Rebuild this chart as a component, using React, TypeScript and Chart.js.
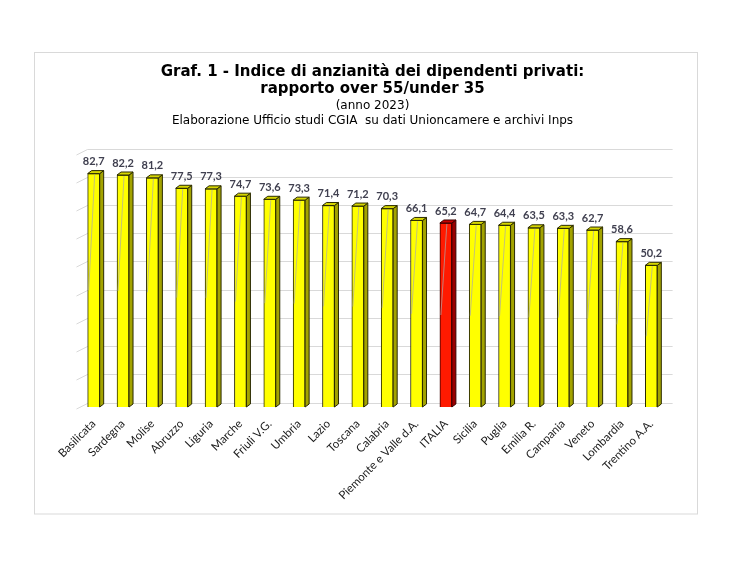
import React, { useEffect, useRef } from "react";
import { Chart, registerables } from "chart.js";

Chart.register(...registerables);

const categories = [
  "Basilicata", "Sardegna", "Molise", "Abruzzo", "Liguria", "Marche", "Friuli V.G.",
  "Umbria", "Lazio", "Toscana", "Calabria", "Piemonte e Valle d.A.", "ITALIA",
  "Sicilia", "Puglia", "Emilia R.", "Campania", "Veneto", "Lombardia", "Trentino A.A.",
];
const values = [82.7, 82.2, 81.2, 77.5, 77.3, 74.7, 73.6, 73.3, 71.4, 71.2, 70.3, 66.1, 65.2, 64.7, 64.4, 63.5, 63.3, 62.7, 58.6, 50.2];
const highlight = "ITALIA";
const titleLines = ["Graf. 1 - Indice di anzianità dei dipendenti privati:", "rapporto over 55/under 35"];
const subtitleLines = ["(anno 2023)", "Elaborazione Ufficio studi CGIA  su dati Unioncamere e archivi Inps"];
const yMax = 90;
const yStep = 10;

const fmt = (v: number) => v.toFixed(1).replace(".", ",");

const threeD = {
  id: "threeD",
  beforeDraw(chart: any) {
    const ctx = chart.ctx;
    ctx.save();
    ctx.fillStyle = "#ffffff";
    ctx.fillRect(0, 0, chart.width, chart.height);
    ctx.strokeStyle = "#d9d9d9";
    ctx.lineWidth = 1;
    ctx.strokeRect(34.5, 52.5, 663, 461.5);
    ctx.restore();
  },
  beforeDatasetsDraw(chart: any) {
    const ctx = chart.ctx;
    const ys = chart.scales.y;
    const area = chart.chartArea;
    ctx.save();
    ctx.strokeStyle = "#d9d9d9";
    ctx.lineWidth = 1;
    for (let v = 0; v <= yMax; v += yStep) {
      const yb = Math.round(ys.getPixelForValue(v) - 4.5) + 0.5;
      ctx.beginPath();
      ctx.moveTo(area.left - 2.5, yb + 5.5);
      ctx.lineTo(area.left + 8.5, yb);
      ctx.lineTo(area.right + 6.6, yb);
      ctx.stroke();
    }
    ctx.restore();
  },
  afterDatasetsDraw(chart: any) {
    const ctx = chart.ctx;
    const meta = chart.getDatasetMeta(0);
    const dx = 4;
    const dy = 3;
    ctx.save();
    meta.data.forEach((bar: any, i: number) => {
      const red = categories[i] === highlight;
      const w = bar.width;
      const l = bar.x - w / 2;
      const r = bar.x + w / 2;
      const t = bar.y;
      const b = bar.base;
      ctx.lineWidth = 1;
      ctx.strokeStyle = red ? "#3a0000" : "#2a2a00";
      // side
      ctx.beginPath();
      ctx.moveTo(r, t);
      ctx.lineTo(r + dx, t - dy);
      ctx.lineTo(r + dx, b - dy);
      ctx.lineTo(r, b);
      ctx.closePath();
      ctx.fillStyle = red ? "#9a0000" : "#a3a300";
      ctx.fill();
      ctx.stroke();
      // top
      ctx.beginPath();
      ctx.moveTo(l, t);
      ctx.lineTo(l + dx, t - dy);
      ctx.lineTo(r + dx, t - dy);
      ctx.lineTo(r, t);
      ctx.closePath();
      ctx.fillStyle = red ? "#c80000" : "#d6d600";
      ctx.fill();
      ctx.stroke();
      // glare
      ctx.beginPath();
      ctx.strokeStyle = "rgba(170,170,170,0.7)";
      ctx.moveTo(bar.x + 1, t + 1);
      ctx.lineTo(l + 1, t + (b - t) * 0.5);
      ctx.stroke();
      // value label
      ctx.fillStyle = "#404050";
      ctx.font = "bold 11px Lato, 'Open Sans', sans-serif";
      ctx.textAlign = "center";
      ctx.textBaseline = "middle";
      ctx.fillText(fmt(values[i]), bar.x, t - 12);
    });
    ctx.restore();
  },
};

export default function App() {
  const ref = useRef<HTMLCanvasElement | null>(null);
  useEffect(() => {
    if (!ref.current) return;
    const chart = new Chart(ref.current, {
      type: "bar",
      data: {
        labels: categories,
        datasets: [
          {
            data: values,
            backgroundColor: categories.map((c) => (c === highlight ? "#ff1a00" : "#ffff00")),
            borderColor: categories.map((c) => (c === highlight ? "#3a0000" : "#2a2a00")),
            borderWidth: 1,
            barThickness: 12,
          },
        ],
      },
      options: {
        animation: false,
        responsive: false,
        layout: { padding: { left: 79, right: 64, top: 0, bottom: 0 } },
        plugins: {
          legend: { display: false },
          tooltip: { enabled: false },
          title: {
            display: true,
            text: titleLines,
            color: "#000000",
            font: { family: "'DejaVu Sans', Verdana, sans-serif", size: 15, weight: "bold", lineHeight: 1.15 },
            padding: { top: 63.5, bottom: 0 },
          },
          subtitle: {
            display: true,
            text: subtitleLines,
            color: "#000000",
            font: { family: "'DejaVu Sans', Verdana, sans-serif", size: 12, weight: "normal", lineHeight: 1.25 },
            padding: { top: 0, bottom: 25 },
          },
        },
        scales: {
          x: {
            grid: { display: false },
            border: { display: false },
            ticks: {
              autoSkip: false,
              maxRotation: 45,
              minRotation: 45,
              color: "#1a1a1a",
              font: { family: "Lato, 'Open Sans', sans-serif", size: 11.5 },
              padding: 2,
            },
            afterFit: (s: any) => {
              s.height = 165;
            },
          },
          y: {
            display: false,
            min: 0,
            max: yMax,
            ticks: { stepSize: yStep },
          },
        },
      },
      plugins: [threeD],
    });
    return () => chart.destroy();
  }, []);
  return (
    <canvas
      ref={ref}
      width={730}
      height={572}
      style={{ position: "fixed", left: 0, top: 0, width: 730, height: 572 }}
    />
  );
}
